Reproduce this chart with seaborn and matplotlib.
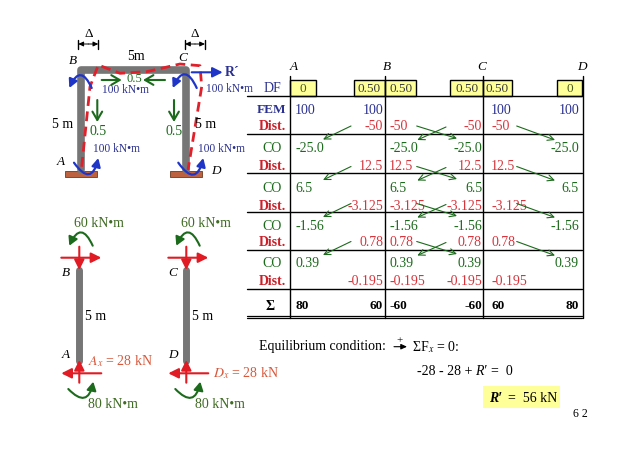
import matplotlib
matplotlib.use('Agg')
import matplotlib.pyplot as plt
import seaborn as sb
from matplotlib.patches import FancyArrowPatch, Rectangle

# moment distribution table values, one list per row
row_names = ['FEM', 'Dist.', 'CO', 'Dist.', 'CO', 'Dist.', 'CO', 'Dist.', 'CO', 'Dist.']
fem = ['100', '100', '', '', '100', '100']
dist1 = ['', '-50', '-50', '-50', '-50', '']
co1 = ['-25.0', '', '-25.0', '-25.0', '', '-25.0']
dist2 = ['', '12.5', '12.5', '12.5', '12.5', '']
co2 = ['6.5', '', '6.5', '6.5', '', '6.5']
dist3 = ['', '-3.125', '-3.125', '-3.125', '-3.125', '']
co3 = ['-1.56', '', '-1.56', '-1.56', '', '-1.56']
dist4 = ['', '0.78', '0.78', '0.78', '0.78', '']
co4 = ['0.39', '', '0.39', '0.39', '', '0.39']
dist5 = ['', '-0.195', '-0.195', '-0.195', '-0.195', '']
totals = ['80', '60', '-60', '-60', '60', '80']
df_labels = ['0', '0.50', '0.50', '0.50', '0.50', '0']
joints = ['A', 'B', 'C', 'D']

BLUE = '#2b3190'
RED = '#e01b24'
DIST_RED = '#d8343c'
GREEN = '#1c6a1c'
GRAY = '#767676'
YELLOW = '#ffff99'
SERIF = 'Liberation Serif'

sb.set_theme(style='white')
plt.rcParams['font.family'] = [SERIF, 'DejaVu Sans']
plt.rcParams['mathtext.fontset'] = 'stix'

fig = plt.figure(figsize=(6.38, 4.51), dpi=100)
ax = fig.add_axes([0, 0, 1, 1])


def line(xs, ys, color='black', lw=1.0, **kw):
    sb.lineplot(x=xs, y=ys, color=color, linewidth=lw, sort=False, estimator=None,
                legend=False, ax=ax, **kw)


def label(x, y, s, color='black', size=9.5, ha='center', **kw):
    ax.text(x, y, s, color=color, fontsize=size, ha=ha, va='center', **kw)


def arrow(a, b, color, lw=1.0, rad=0.0, hl=5, hw=2.5, style='-|>', z=5):
    ax.add_patch(FancyArrowPatch(a, b, connectionstyle='arc3,rad=%g' % rad,
                                 arrowstyle='%s,head_length=%g,head_width=%g' % (style, hl, hw),
                                 color=color, lw=lw, shrinkA=0, shrinkB=0,
                                 mutation_scale=1, zorder=z))


# ---- top frame ----
line([81, 81, 186, 186], [170, 70, 70, 170], color=GRAY, lw=5.5)
for x0 in (65, 170):
    ax.add_patch(Rectangle((x0, 171), 32, 6, facecolor='#bd6240', edgecolor='#6b3a20', lw=0.6))
line([81.7, 90, 98.3, 120, 146.7, 180, 200, 201.7, 188],
     [166.7, 86.7, 65, 73.3, 71.7, 64, 65.7, 86.7, 170],
     color='#e0202a', lw=2.0, linestyle=(0, (3.5, 2)))

for a, b in [((91.7, 88), (69.3, 88)), ((196.7, 88), (172.7, 88)),
             ((74, 162.7), (98.3, 158)), ((178.3, 162.7), (203.3, 158))]:
    arrow(a, b, '#1f35c8', lw=1.6, rad=1.1, hl=5, hw=2.6)

for a, b in [((101.7, 80), (121.7, 80)), ((165, 80), (143, 80)),
             ((97.3, 100), (97.3, 122)), ((174, 100), (174, 122))]:
    arrow(a, b, GREEN, lw=1.5, hl=6, hw=3.5, style='->')
arrow((191.7, 72.3), (222.7, 72.3), '#1f35c8', lw=1.5, hl=6, hw=3)
label(225, 72, 'R´', BLUE, size=10, ha='left', fontweight='bold')

for x0, x1 in [(78.3, 98.3), (185, 205)]:
    line([x0, x0], [39.5, 49])
    line([x1, x1], [39.5, 49])
    arrow((x0 + 10, 44), (x0, 44), 'black', lw=0.7, hl=3, hw=1.4)
    arrow((x0 + 10, 44), (x1, 44), 'black', lw=0.7, hl=3, hw=1.4)
    label((x0 + x1) / 2, 34, 'Δ', size=9.5)

label(73.3, 60.7, 'B', size=9.5, style='italic')
label(182.7, 58.3, 'C', size=9.5, style='italic')
label(60.7, 162.3, 'A', size=9.5, style='italic')
label(216, 170.7, 'D', size=9.5, style='italic')
label(136, 56.7, '5m', size=10)
label(62.7, 125, '5 m', size=10)
label(206, 125, '5 m', size=10)
label(134.3, 78.5, '0.5', GREEN, size=9)
label(98.3, 131.7, '0.5', GREEN, size=10)
label(174.3, 131.7, '0.5', GREEN, size=10)
for x, y in [(125, 90), (230, 89), (116.7, 149), (221, 149)]:
    label(x, y, '100 kN•m', BLUE, size=8.3)

# ---- free bodies of the columns ----
for xc, name_top, name_bot in [(79.3, 'B', 'A'), (186.3, 'C', 'D')]:
    line([xc, xc], [270, 361], color=GRAY, lw=5.0)
    label(xc + 16.5, 316.7, '5 m', size=10)
    label(xc - 13.2, 272.7, name_top, style='italic')
    label(xc - 13.8, 355, name_bot, style='italic')
    arrow((xc - 18, 257.7), (xc + 22, 257.7), RED, lw=1.5, hl=6, hw=3)
    arrow((xc, 246.7), (xc, 270), RED, lw=1.5, hl=6, hw=3)
    arrow((xc, 382.7), (xc, 360), RED, lw=1.5, hl=6, hw=3)
    arrow((xc + 22, 373.3), (xc - 18, 373.3), RED, lw=1.5, hl=6, hw=3)
    arrow((xc + 13.4, 245.7), (xc - 10, 245.7), GREEN, lw=1.5, rad=1.1, hl=5, hw=2.8)
    arrow((xc - 11, 389), (xc + 14, 381.7), GREEN, lw=1.5, rad=0.95, hl=5, hw=2.8)
    label(xc + 20, 223.3, '60 kN•m', '#3f6b22', size=10)
    label(xc + 34, 404.3, '80 kN•m', '#3f6b22', size=10)

label(120.7, 361, r'$\mathit{A}_x$ = 28 kN', '#d9583b', size=10)
label(246, 372.7, r'$\mathit{D}_x$ = 28 kN', '#d9583b', size=10)

# ---- table ----
col_lines = [290.3, 385.3, 483.3, 583.3]
row_lines = [96.3, 134.3, 173.2, 212.3, 250.3, 289]
for x in col_lines:
    line([x, x], [76, 318], lw=1.0)
for y in row_lines:
    line([247, 582], [y, y], lw=1.0)
line([247, 582], [315.7, 315.7], lw=0.9)
line([247, 582], [317.8, 317.8], lw=0.9)

box_edges = [(290.3, 316.3), (353.7, 385.3), (385.3, 416.3), (450.3, 483.3), (483.3, 511.7), (556.7, 582.3)]
for (x0, x1), s in zip(box_edges, df_labels):
    ax.add_patch(Rectangle((x0, 80), x1 - x0, 16.3, facecolor=YELLOW, edgecolor='black', lw=1.0))
    label((x0 + x1) / 2, 88.5, s, '#3a3a3a' if s != '0' else '#4a5a20', size=9.5)
label(272, 88, 'DF', BLUE, size=10)

for x, s in zip([294, 386.7, 482, 582], joints):
    label(x, 67, s, size=9.5, style='italic')

row_vals = [fem, dist1, co1, dist2, co2, dist3, co3, dist4, co4, dist5]
row_ys = [110, 127, 149, 166.7, 188.3, 206, 226.7, 242.7, 263.3, 281.7]
col_x = [295, 383, 389, 482, 491, 579]
col_ha = ['left', 'right', 'left', 'right', 'left', 'right']
for name, vals, y in zip(row_names, row_vals, row_ys):
    if name == 'FEM':
        label(271.7, y, name, BLUE, size=9.5, fontweight='bold')
        color = BLUE
    elif name == 'CO':
        label(272, y, name, GREEN, size=10)
        color = GREEN
    else:
        label(272.5, y, name, '#cc1f28', size=10, fontweight='bold')
        color = DIST_RED
    for x, ha, s in zip(col_x, col_ha, vals):
        if s:
            label(x, y, s, color, size=10, ha=ha)

label(270, 306, 'Σ', size=10, fontweight='bold')
for x, ha, s in zip(col_x, col_ha, totals):
    label(x + 0.5 * (ha == 'left'), 306, s, size=9.5, ha=ha, fontweight='bold')

# carry over arrows between rows
for y0 in (126, 166.5, 203.5, 241.5):
    arrow((351, y0), (323, y0 + 13.5), GREEN, lw=0.8, hl=4.5, hw=2.2, style='->')
    arrow((416.7, y0), (457, y0 + 12.5), GREEN, lw=0.8, hl=4.5, hw=2.2, style='->')
    arrow((446, y0 + 1), (417.3, y0 + 14), GREEN, lw=0.8, hl=4.5, hw=2.2, style='->')
    arrow((516.7, y0), (555, y0 + 14), GREEN, lw=0.8, hl=4.5, hw=2.2, style='->')

# ---- equilibrium ----
label(259.3, 346.7, 'Equilibrium condition:', size=10, ha='left')
arrow((394, 346.7), (407, 346.7), 'black', lw=0.8, hl=3.5, hw=1.6)
label(400, 340.7, '+', size=8)
label(412.3, 346.7, r'ΣF$_x$ = 0:', size=10, ha='left')
label(416.7, 371.7, '-28 - 28 +', size=10, ha='left')
label(475, 371.7, 'R′', size=10, ha='left', style='italic')
label(490.7, 371.7, '=  0', size=10, ha='left')
ax.add_patch(Rectangle((483.3, 386), 76.7, 21.7, facecolor=YELLOW, edgecolor='none'))
label(489.3, 398, 'R′', size=10, ha='left', style='italic', fontweight='bold')
label(508, 398, '=  56 kN', size=10, ha='left')
label(580, 414.3, '6 2', size=8.5)

ax.set_xlim(0, 638)
ax.set_ylim(451, 0)
ax.axis('off')
fig.savefig('out.png', dpi=100, facecolor='white')
